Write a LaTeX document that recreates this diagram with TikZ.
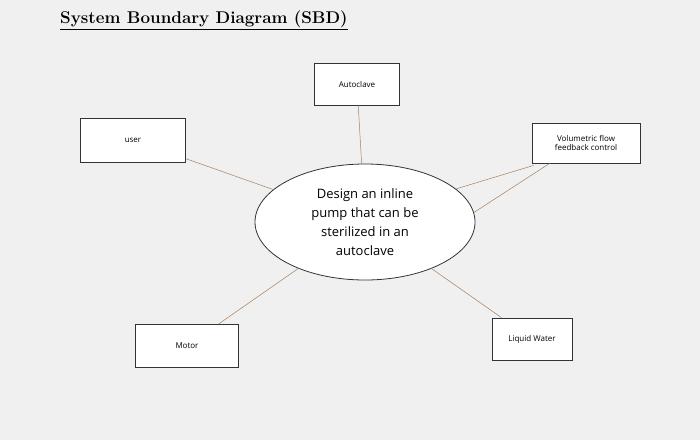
\documentclass[tikz,border=0pt]{standalone}
\usetikzlibrary{shapes.geometric}
\usepackage{fontspec}
\setsansfont{Open Sans}
\begin{document}
\begin{tikzpicture}[x=1pt,y=-1pt,
  box/.style={draw=black!80,line width=0.8pt,fill=white,font=\sffamily\footnotesize,inner sep=0pt},
  link/.style={draw=brown!60!gray,line width=0.5pt}]
\fill[gray!12] (0,0) rectangle (700,440);
\useasboundingbox (0,0) rectangle (700,440);
\node[font=\bfseries\fontsize{17}{20}\selectfont,anchor=west,inner sep=0pt] (title) at (60,20) {\underline{System Boundary Diagram (SBD)}};
\node[box,minimum width=85pt,minimum height=42pt] (auto) at (357,84) {Autoclave};
\node[box,minimum width=105pt,minimum height=44pt] (user) at (133,140) {user};
\node[box,minimum width=108pt,minimum height=40pt,align=center] (vol) at (586,143) {Volumetric flow\\feedback control};
\node[draw=black!80,line width=0.8pt,fill=white,ellipse,minimum width=220pt,minimum height=116pt,align=center,font=\sffamily\fontsize{13}{19}\selectfont,inner sep=0pt] (goal) at (365,222) {Design an inline\\pump that can be\\sterilized in an\\autoclave};
\node[box,minimum width=103pt,minimum height=43pt] (motor) at (187,346) {Motor};
\node[box,minimum width=80pt,minimum height=42pt] (water) at (532,339) {Liquid Water};
\draw[link] (auto) -- (goal);
\draw[link] (user) -- (goal);
\draw[link] (goal.20) -- ([xshift=2pt,yshift=-2pt]vol.south west);
\draw[link] (goal.5) -- ([xshift=18pt]vol.south west);
\draw[link] (goal) -- (motor);
\draw[link] (goal) -- (water);
\end{tikzpicture}
\end{document}
